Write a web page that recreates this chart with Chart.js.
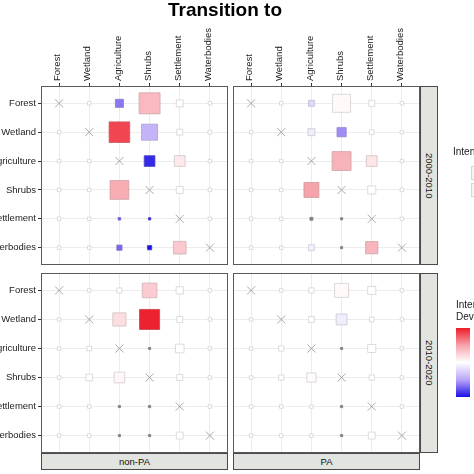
<!DOCTYPE html>
<html>
<head>
<meta charset="utf-8">
<script src="https://cdn.jsdelivr.net/npm/chart.js@4"></script>
<style>
html,body{margin:0;padding:0;background:#fff;overflow:hidden;width:474px;height:474px;}
#wrap{position:relative;width:474px;height:474px;font-family:"Liberation Sans",Arial,sans-serif;overflow:hidden;}
canvas{position:absolute;left:0;top:0;}
.strip{position:absolute;background:#e2e4df;border:1px solid #4a4a4a;box-sizing:border-box;color:#111;font-size:9.5px;display:flex;align-items:center;justify-content:center;}
.vert{writing-mode:vertical-rl;}
.txt{position:absolute;color:#1a1a1a;white-space:nowrap;}
</style>
</head>
<body>
<div id="wrap">
<canvas id="p1" width="474" height="474"></canvas>
<canvas id="p2" width="474" height="474"></canvas>
<canvas id="p3" width="474" height="474"></canvas>
<canvas id="p4" width="474" height="474"></canvas>
<div class="txt" id="title" style="left:0;width:450px;top:-1px;text-align:center;font-weight:bold;font-size:19px;line-height:22px;color:#000;">Transition to</div>
<div class="strip vert" id="s1" style="left:420px;top:86px;width:18px;height:179px;"></div>
<div class="strip vert" id="s2" style="left:420px;top:273px;width:18px;height:180px;"></div>
<div class="strip" id="s3" style="left:41px;top:453px;width:187px;height:17px;"></div>
<div class="strip" id="s4" style="left:233px;top:453px;width:187px;height:17px;"></div>
<div class="txt" style="left:453px;top:146px;font-size:10px;line-height:12px;">Intensity</div>
<div style="position:absolute;left:471px;top:166px;width:20px;height:12px;background:#f4f4f4;border:1px solid #d6d6d6;"></div>
<div style="position:absolute;left:471px;top:183px;width:20px;height:12px;background:#f4f4f4;border:1px solid #d6d6d6;"></div>
<div class="txt" style="left:456px;top:299px;font-size:10px;line-height:12px;">Intensity<br>Deviation</div>
<div style="position:absolute;left:456px;top:328px;width:14px;height:69px;background:linear-gradient(to bottom,#ee1c2a 0%,#f7a3ac 25%,#ffffff 50%,#baa5f7 75%,#1a10e6 100%);"></div>
</div>
<script>
// categories
const landCover = ['Forest', 'Wetland', 'Agriculture', 'Shrubs', 'Settlement', 'Waterbodies'];
const periods = ['2000-2010', '2010-2020'];
const areas = ['non-PA', 'PA'];

// intensity of transition (relative, 0-1), rows = from, columns = to
const intensityNonPA2000 = [
  [null, 0.08, 0.32, 1.00, 0.26, 0.08],
  [0.08, null, 0.98, 0.74, 0.21, 0.10],
  [0.08, 0.08, null, 0.46, 0.46, 0.08],
  [0.08, 0.08, 0.88, null, 0.26, 0.08],
  [0.08, 0.08, 0.03, 0.02, null, 0.08],
  [0.08, 0.08, 0.17, 0.12, 0.56, null]
];
const deviationNonPA2000 = [
  [null, 0, -0.65, 0.38, 0, 0],
  [0, null, 0.85, -0.42, 0, 0],
  [0, 0, null, -0.92, 0.12, 0],
  [0, 0, 0.45, null, 0, 0],
  [0, 0, -0.75, -0.95, null, 0],
  [0, 0, -0.70, -1.00, 0.30, null]
];
const intensityPA2000 = [
  [null, 0.08, 0.21, 0.84, 0.21, 0.08],
  [0.08, null, 0.26, 0.38, 0.14, 0.08],
  [0.08, 0.08, null, 0.89, 0.46, 0.08],
  [0.08, 0.08, 0.68, null, 0.32, 0.08],
  [0.08, 0.08, 0.05, 0.01, null, 0.08],
  [0.08, 0.08, 0.21, 0.01, 0.54, null]
];
const deviationPA2000 = [
  [null, 0, -0.22, 0.03, 0, 0],
  [0, null, -0.10, -0.58, 0, 0],
  [0, 0, null, 0.42, 0.14, 0],
  [0, 0, 0.50, null, 0, 0],
  [0, 0, null, null, null, 0],
  [0, 0, -0.08, null, 0.40, null]
];
const intensityNonPA2010 = [
  [null, 0.08, 0.16, 0.67, 0.28, 0.08],
  [0.08, null, 0.59, 0.95, 0.21, 0.08],
  [0.08, 0.14, null, 0.01, 0.35, 0.08],
  [0.08, 0.25, 0.46, null, 0.21, 0.08],
  [0.08, 0.08, 0.01, 0.01, null, 0.08],
  [0.08, 0.08, 0.01, 0.01, 0.26, null]
];
const deviationNonPA2010 = [
  [null, 0, 0, 0.28, 0, 0],
  [0, null, 0.18, 0.98, 0, 0],
  [0, 0, null, null, 0, 0],
  [0, 0, 0.05, null, 0, 0],
  [0, 0, null, null, null, 0],
  [0, 0, null, null, 0, null]
];
const intensityPA2010 = [
  [null, 0.08, 0.17, 0.63, 0.32, 0.08],
  [0.08, null, 0.21, 0.47, 0.14, 0.08],
  [0.08, 0.17, null, 0.01, 0.32, 0.08],
  [0.08, 0.17, 0.38, null, 0.17, 0.08],
  [0.08, 0.08, 0.08, 0.01, null, 0.08],
  [0.08, 0.08, 0.08, 0.01, 0.26, null]
];
const deviationPA2010 = [
  [null, 0, 0, 0.03, 0, 0],
  [0, null, 0, -0.10, 0, 0],
  [0, 0, null, null, 0, 0],
  [0, 0, 0.02, null, 0, 0],
  [0, 0, 0, null, null, 0],
  [0, 0, 0, null, 0, null]
];

document.getElementById('s1').textContent = periods[0];
document.getElementById('s2').textContent = periods[1];
document.getElementById('s3').textContent = areas[0];
document.getElementById('s4').textContent = areas[1];

function lerp(a, b, t) { return a.map((v, i) => Math.round(v + (b[i] - v) * t)); }
function devRGB(d) {
  if (d === null || d === undefined) return [127, 127, 127];
  const t = Math.min(1, Math.abs(d));
  const mid = d >= 0 ? [247, 163, 172] : [186, 165, 247];
  const end = d >= 0 ? [238, 28, 42] : [26, 16, 230];
  return t <= 0.5 ? lerp([255, 255, 255], mid, t / 0.5) : lerp(mid, end, (t - 0.5) / 0.5);
}
function devColour(d) { const c = devRGB(d); return `rgb(${c[0]},${c[1]},${c[2]})`; }
function edgeColour(d) { const c = lerp(devRGB(d), [128, 128, 128], 0.35); return `rgb(${c[0]},${c[1]},${c[2]})`; }
function sideOf(v) { return 2 + 19 * v; }

const frame = {
  id: 'frame',
  afterDraw(chart) {
    const a = chart.chartArea, ctx = chart.ctx;
    ctx.save();
    ctx.strokeStyle = '#5a5a5a';
    ctx.lineWidth = 1;
    ctx.strokeRect(Math.round(a.left) + 0.5, Math.round(a.top) + 0.5, Math.round(a.right - a.left) - 1, Math.round(a.bottom - a.top) - 1);
    ctx.restore();
  }
};

function makePanel(id, box, inten, dev, showX, showY) {
  const squares = [], crosses = [];
  for (let r = 0; r < landCover.length; r++) {
    for (let c = 0; c < landCover.length; c++) {
      if (r === c) crosses.push({ x: c, y: r });
      else squares.push({ x: c, y: r, v: inten[r][c], d: dev[r][c] });
    }
  }
  // axis boxes: labelled axes take the whole margin so their labels are not clipped
  const xSize = showX ? box.t : 0;
  const ySize = showY ? box.l : 0;
  const fit = s => {
    if (s.isHorizontal()) s.height = xSize; else s.width = ySize;
    s.paddingLeft = s.paddingRight = s.paddingTop = s.paddingBottom = 0;
  };
  const tickFont = { family: '"Liberation Sans", Arial, sans-serif', size: 9.5 };
  const setTicks = s => { s.ticks = landCover.map((_, i) => ({ value: i })); };
  new Chart(document.getElementById(id), {
    type: 'scatter',
    data: {
      datasets: [
        {
          data: squares,
          pointStyle: 'rect',
          pointRadius: ctx => sideOf(ctx.raw.v) / Math.SQRT2,
          pointHoverRadius: ctx => sideOf(ctx.raw.v) / Math.SQRT2,
          pointBackgroundColor: ctx => devColour(ctx.raw.d),
          pointBorderColor: ctx => edgeColour(ctx.raw.d),
          pointBorderWidth: 0.8,
          clip: false
        },
        {
          data: crosses,
          pointStyle: 'crossRot',
          pointRadius: 5.7,
          pointBorderColor: '#a8a8a8',
          pointBackgroundColor: 'rgba(0,0,0,0)',
          pointBorderWidth: 1,
          clip: false
        }
      ]
    },
    options: {
      responsive: false,
      animation: false,
      devicePixelRatio: 1,
      events: [],
      layout: { padding: { left: box.l - ySize, top: box.t - xSize, right: 474 - box.r, bottom: 474 - box.b } },
      plugins: { legend: { display: false }, tooltip: { enabled: false }, title: { display: false } },
      scales: {
        x: {
          type: 'linear', position: 'top', min: -0.6, max: 5.6,
          afterBuildTicks: setTicks, afterFit: fit,
          grid: { color: '#ececec', lineWidth: 1, drawTicks: showX, tickLength: 3, tickColor: '#333', tickWidth: 1 },
          border: { display: false },
          ticks: { display: showX, autoSkip: false, minRotation: 90, maxRotation: 90, padding: 2, labelOffset: 10, color: '#222', font: tickFont, callback: v => landCover[v] }
        },
        y: {
          type: 'linear', position: 'left', reverse: true, min: -0.6, max: 5.6,
          afterBuildTicks: setTicks, afterFit: fit,
          grid: { color: '#ececec', lineWidth: 1, drawTicks: showY, tickLength: 3, tickColor: '#333', tickWidth: 1 },
          border: { display: false },
          ticks: { display: showY, autoSkip: false, padding: 2, color: '#222', font: tickFont, callback: v => landCover[v] }
        }
      }
    },
    plugins: [frame]
  });
}

makePanel('p1', { l: 41, t: 86, r: 228, b: 265 }, intensityNonPA2000, deviationNonPA2000, true, true);
makePanel('p2', { l: 233, t: 86, r: 420, b: 265 }, intensityPA2000, deviationPA2000, true, false);
makePanel('p3', { l: 41, t: 273, r: 228, b: 453 }, intensityNonPA2010, deviationNonPA2010, false, true);
makePanel('p4', { l: 233, t: 273, r: 420, b: 453 }, intensityPA2010, deviationPA2010, false, false);
</script>
</body>
</html>
